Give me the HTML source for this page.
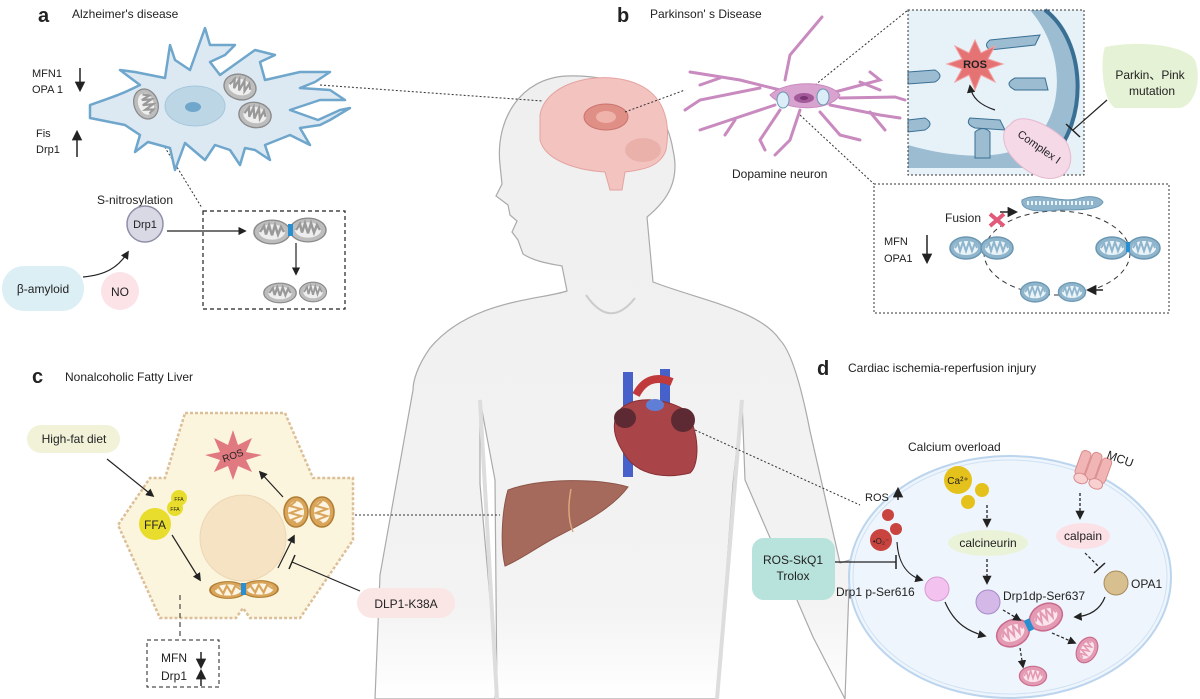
<!DOCTYPE html>
<html><head><meta charset="utf-8"><style>
html,body{margin:0;padding:0;background:#fff}
svg{display:block}
text{font-family:"Liberation Sans","Noto Sans CJK SC",sans-serif;fill:#222}
</style></head><body>
<svg width="1200" height="699" viewBox="0 0 1200 699" xmlns="http://www.w3.org/2000/svg">
<defs>
<marker id="ah" viewBox="0 0 10 10" refX="8" refY="5" markerWidth="7" markerHeight="7" orient="auto"><path d="M0,0L10,5L0,10z" fill="#222"/></marker>
<linearGradient id="bodyg" x1="0" y1="0" x2="0" y2="1"><stop offset="0" stop-color="#efefef"/><stop offset="0.85" stop-color="#f3f3f3"/><stop offset="1" stop-color="#fff"/></linearGradient>
<g id="mitoG"><ellipse cx="0" cy="0" rx="18" ry="14" fill="#bdbdbd" stroke="#8a8a8a" stroke-width="1.5"/><ellipse cx="0" cy="0" rx="13" ry="9" fill="#eee"/><path d="M-12,0 L-8,-7 L-6,3 L-3,-8 L0,4 L3,-8 L6,3 L9,-6 L12,0" fill="none" stroke="#999" stroke-width="2.5"/></g>
<g id="mitoB"><ellipse cx="0" cy="0" rx="16" ry="11" fill="#8fb5cc" stroke="#6b97b3" stroke-width="1.5"/><ellipse cx="0" cy="0" rx="12" ry="7" fill="#eaf3f8"/><path d="M-11,0 L-8,-5 L-6,3 L-3,-6 L0,3 L3,-6 L6,3 L9,-5 L11,0" fill="none" stroke="#8fb5cc" stroke-width="2"/></g>
<g id="mitoO"><ellipse cx="0" cy="0" rx="12" ry="15" fill="#d9a55a" stroke="#b07d33" stroke-width="1.5"/><ellipse cx="0" cy="0" rx="8" ry="11" fill="#fdf4e3"/><path d="M0,-11 L-6,-6 L5,-3 L-6,1 L5,4 L-5,8 L0,11" fill="none" stroke="#d9a55a" stroke-width="2"/></g>
<g id="mitoP"><ellipse cx="0" cy="0" rx="17" ry="13" fill="#e49ab3" stroke="#c86a8c" stroke-width="1.5"/><ellipse cx="0" cy="0" rx="12" ry="8" fill="#fbe6ee"/><path d="M-11,0 L-8,-6 L-6,3 L-3,-7 L0,3 L3,-7 L6,3 L9,-6 L11,0" fill="none" stroke="#e49ab3" stroke-width="2"/></g>
</defs>

<!-- BODY -->
<path d="M567,76 C520,78 495,120 500,165 L502,184 L496,196 L508,205 L510,215 L517,221 L512,232 L518,240 L523,254 C535,262 552,264 562,266 L567,291 C540,300 470,300 430,348 C418,365 413,380 413,390 L380,575 L375,699 L495,699 L497,678 L480,484 L480,400 L495,480 L497,699 L717,699 L733,484 L742,400 L745,480 L813,637 L845,699 L850,560 L840,563 L810,431 C800,380 790,350 780,340 C760,310 700,300 653,282 L647,217 C668,200 680,180 673,150 C665,100 625,74 567,76 Z" fill="url(#bodyg)" stroke="#aaa" stroke-width="1.2"/>
<path d="M480,400 L497,699" stroke="#ddd" stroke-width="4" fill="none"/>
<path d="M742,400 L717,699" stroke="#ddd" stroke-width="4" fill="none"/>
<path d="M586,295 Q610,330 635,298" stroke="#ccc" stroke-width="2" fill="none"/>
<path d="M540,115 C545,85 590,72 625,80 C660,88 672,115 666,150 C660,168 640,170 625,172 L622,190 L610,190 L605,172 C575,170 545,160 540,140 Z" fill="#f3c3c0" stroke="#e4a3a0" stroke-width="1"/>
<ellipse cx="606" cy="117" rx="22" ry="13" fill="#e08f86" stroke="#c9736b"/>
<ellipse cx="606" cy="117" rx="10" ry="6" fill="#f0b3ab"/>
<ellipse cx="643" cy="150" rx="18" ry="12" fill="#eab1ab"/>
<rect x="623" y="372" width="10" height="105" fill="#4661c9"/>
<rect x="660" y="369" width="10" height="45" fill="#4661c9"/>
<path d="M636,395 Q648,372 672,382" stroke="#c0393b" stroke-width="8" fill="none"/>
<path d="M615,420 C620,395 660,395 685,410 C700,430 700,465 690,473 C670,478 640,478 625,455 C615,440 613,430 615,420Z" fill="#a94548" stroke="#8a2f33"/>
<ellipse cx="625" cy="418" rx="11" ry="10" fill="#5d2a33"/>
<ellipse cx="683" cy="420" rx="12" ry="12" fill="#5d2a33"/>
<ellipse cx="655" cy="405" rx="9" ry="6" fill="#5f7fd6"/>
<path d="M508,490 C540,478 600,478 628,487 C615,505 590,520 560,535 C540,545 520,560 505,566 C500,545 502,510 508,490Z" fill="#a66a5d" stroke="#8c5548"/>
<path d="M571,489 Q566,515 573,532" stroke="#d9a87a" stroke-width="1.5" fill="none"/>

<!-- dotted leaders -->
<g stroke="#333" stroke-width="1" stroke-dasharray="2,2" fill="none">
<path d="M320,85 L543,101"/>
<path d="M625,112 L685,90"/>
<path d="M150,123 L202,208"/>
<path d="M355,515 L500,515"/>
<path d="M695,430 L860,505"/>
<path d="M815,85 L908,10"/>
<path d="M800,115 L874,184"/>
</g>

<!-- PANEL A -->
<text x="38" y="22" font-size="20" font-weight="bold" fill="#111">a</text>
<text x="72" y="18" font-size="12">Alzheimer's disease</text>
<path d="M90,105 C110,98 120,95 140,85 L120,70 L135,72 L165,78 L170,45 L175,60 L190,70 L205,28 L210,45 L235,45 L225,55 L210,62 L220,75 L255,50 L275,55 L260,62 L265,80 L300,72 L330,72 L315,82 L300,88 L330,90 L345,100 L320,100 L290,110 L318,120 L340,110 L350,108 L330,120 L320,125 L300,128 L310,145 L290,135 L265,145 L270,160 L255,150 L245,148 L240,165 L230,150 L215,145 L205,160 L185,143 L175,170 L170,148 L148,142 L135,152 L140,135 L125,125 L90,118 Z" fill="#dde9f2" stroke="#6fa6cc" stroke-width="2.5" stroke-linejoin="round"/>
<ellipse cx="195" cy="106" rx="30" ry="20" fill="#bcd6e6" stroke="#a5c7dc"/>
<ellipse cx="193" cy="107" rx="8" ry="5" fill="#6fa6cc"/>
<use href="#mitoG" transform="translate(146,104) rotate(70) scale(0.85)"/>
<use href="#mitoG" transform="translate(240,87) rotate(15) scale(0.9)"/>
<use href="#mitoG" transform="translate(255,115) rotate(10) scale(0.9)"/>
<text x="32" y="77" font-size="11">MFN1</text>
<text x="32" y="93" font-size="11">OPA 1</text>
<path d="M80,68 L80,90" stroke="#222" stroke-width="1.5" marker-end="url(#ah)"/>
<text x="36" y="137" font-size="11">Fis</text>
<text x="36" y="153" font-size="11">Drp1</text>
<path d="M77,157 L77,132" stroke="#222" stroke-width="1.5" marker-end="url(#ah)"/>
<text x="97" y="204" font-size="12">S-nitrosylation</text>
<circle cx="145" cy="224" r="18" fill="#d9d9e6" stroke="#8f8fa8" stroke-width="1.5"/>
<text x="145" y="228" font-size="11" text-anchor="middle">Drp1</text>
<path d="M167,231 L245,231" stroke="#222" stroke-width="1.2" marker-end="url(#ah)"/>
<rect x="203" y="211" width="142" height="98" fill="none" stroke="#222" stroke-dasharray="4,3" stroke-width="1.2"/>
<use href="#mitoG" transform="translate(272,232) scale(1,0.85)"/>
<use href="#mitoG" transform="translate(308,230) scale(1,0.85)"/>
<rect x="288" y="224" width="5" height="12" fill="#2a8fd0"/>
<path d="M296,243 L296,274" stroke="#222" stroke-width="1.2" marker-end="url(#ah)"/>
<use href="#mitoG" transform="translate(280,293) scale(0.9,0.7)"/>
<use href="#mitoG" transform="translate(313,292) scale(0.75,0.7)"/>
<rect x="2" y="266" width="82" height="45" rx="22" fill="#dbeff5"/>
<text x="43" y="293" font-size="12" text-anchor="middle">β-amyloid</text>
<circle cx="120" cy="291" r="19" fill="#fbe3e8"/>
<text x="120" y="296" font-size="12" text-anchor="middle">NO</text>
<path d="M83,277 C105,275 118,268 128,252" stroke="#222" stroke-width="1.2" fill="none" marker-end="url(#ah)"/>

<!-- PANEL B -->
<text x="617" y="22" font-size="20" font-weight="bold" fill="#111">b</text>
<text x="650" y="18" font-size="12">Parkinson' s Disease</text>
<g stroke="#c98abf" stroke-width="3" fill="none" stroke-linecap="round">
<path d="M822,17 L790,55 L785,80"/>
<path d="M780,90 L740,80 L690,72"/>
<path d="M760,88 L700,100 L685,110"/>
<path d="M775,105 L730,120 L700,130"/>
<path d="M780,110 L760,140 L765,150"/>
<path d="M800,110 L790,140 L775,155"/>
<path d="M820,112 L840,135 L860,140"/>
<path d="M830,105 L880,115 L900,118"/>
<path d="M835,92 L880,80 L870,72"/>
<path d="M840,98 L895,97 L905,100"/>
<path d="M720,78 L700,85"/><path d="M735,120 L725,135"/><path d="M870,112 L885,130"/><path d="M860,82 L880,90"/>
</g>
<path d="M770,95 C785,80 830,80 840,95 C830,112 785,112 770,95Z" fill="#d9a3cf" stroke="#c98abf"/>
<ellipse cx="783" cy="100" rx="6" ry="8" fill="#dbeef7" stroke="#6b97b3"/>
<ellipse cx="804" cy="98" rx="10" ry="5" fill="#a35a9a"/>
<ellipse cx="804" cy="98" rx="4" ry="2" fill="#7a3572"/>
<ellipse cx="823" cy="97" rx="6" ry="8" fill="#dbeef7" stroke="#6b97b3"/>
<text x="732" y="178" font-size="12">Dopamine neuron</text>

<!-- box1 -->
<rect x="908" y="10" width="176" height="165" fill="#e6f1f8"/>
<path d="M1045,10 C1085,40 1090,120 1050,160 L1040,168 L908,168 L908,145 C960,160 1010,160 1035,140 C1065,110 1065,50 1030,10 Z" fill="#9bbcd1"/>
<path d="M1045,10 C1085,40 1090,120 1050,160 L1040,168" fill="none" stroke="#3a6f94" stroke-width="4"/>
<g fill="#9bbcd1" stroke="#3a6f94" stroke-width="1">
<path d="M908,72 L935,70 Q945,76 935,82 L908,84Z"/>
<path d="M1045,78 L1015,78 Q1003,84 1015,90 L1048,90Z"/>
<path d="M908,120 L925,118 Q935,124 925,130 L908,132Z"/>
<path d="M1000,120 L970,118 Q965,124 975,128 L1005,130Z"/>
<path d="M975,158 L975,132 Q983,125 990,132 L990,158Z"/>
<path d="M1040,35 L990,40 Q983,45 990,50 L1035,45Z"/>
</g>
<polygon points="975,40 981,53 995,46 988,59 1003,64 988,69 995,82 981,75 975,90 969,75 955,82 962,69 947,64 962,59 955,46 969,53" fill="#e57373" stroke="#f2a0a0"/>
<text x="975" y="68" font-size="11" font-weight="bold" fill="#fff" text-anchor="middle">ROS</text>
<path d="M995,110 C980,105 972,98 970,86" stroke="#222" stroke-width="1.2" fill="none" marker-end="url(#ah)"/>
<rect x="908" y="10" width="176" height="165" fill="none" stroke="#333" stroke-dasharray="2,2"/>
<path d="M1010,125 C1020,110 1050,125 1065,140 C1075,155 1072,175 1055,178 C1035,182 1010,160 1005,145 C1002,135 1004,128 1010,125Z" fill="#f5d9e7" stroke="#e6b9cf"/>
<text x="1037" y="150" font-size="11" transform="rotate(35 1037 150)" text-anchor="middle">Complex I</text>
<path d="M1105,47 C1140,40 1185,45 1195,60 C1202,80 1195,105 1180,108 L1115,108 C1102,100 1100,60 1105,47Z" fill="#e6f2d5"/>
<text x="1150" y="79" font-size="12" text-anchor="middle">Parkin、Pink</text>
<text x="1152" y="95" font-size="12" text-anchor="middle">mutation</text>
<path d="M1107,100 L1073,130" stroke="#222" stroke-width="1.2"/>
<path d="M1066,124 L1080,137" stroke="#222" stroke-width="1.5"/>

<!-- box2 -->
<rect x="874" y="184" width="295" height="129" fill="none" stroke="#333" stroke-dasharray="2,2"/>
<ellipse cx="1057" cy="253" rx="73" ry="42" fill="none" stroke="#333" stroke-dasharray="5,4"/>
<path d="M1022,200 C1040,190 1060,205 1080,198 C1090,195 1100,197 1103,202 C1100,210 1080,210 1060,210 C1040,212 1020,212 1022,200Z" fill="#8fb5cc" stroke="#6b97b3"/>
<path d="M1027,203 L1095,203" stroke="#eaf3f8" stroke-width="4" stroke-dasharray="2,2"/>
<use href="#mitoB" transform="translate(966,248)"/>
<use href="#mitoB" transform="translate(997,248)"/>
<use href="#mitoB" transform="translate(1112,248)"/>
<use href="#mitoB" transform="translate(1144,248)"/>
<rect x="1126" y="242" width="4" height="10" fill="#2a8fd0"/>
<use href="#mitoB" transform="translate(1035,292) scale(0.9)"/>
<use href="#mitoB" transform="translate(1072,292) scale(0.85)"/>
<path d="M1000,212 L1016,212" stroke="#222" marker-end="url(#ah)" stroke-width="1.5"/>
<path d="M1103,290 L1088,290" stroke="#222" marker-end="url(#ah)" stroke-width="1.5"/>
<path d="M990,214 L1004,226 M1004,214 L990,226" stroke="#e25a7a" stroke-width="4"/>
<text x="945" y="222" font-size="12">Fusion</text>
<text x="884" y="245" font-size="11">MFN</text>
<text x="884" y="262" font-size="11">OPA1</text>
<path d="M927,235 L927,262" stroke="#222" stroke-width="1.5" marker-end="url(#ah)"/>

<!-- PANEL C -->
<text x="32" y="383" font-size="20" font-weight="bold" fill="#111">c</text>
<text x="65" y="381" font-size="12">Nonalcoholic Fatty Liver</text>
<path d="M185,413 L285,413 L313,478 L353,478 L353,540 L300,618 L250,618 L243,608 L236,618 L160,618 L118,525 L150,478 L165,478 Z" fill="#fcf5dd" stroke="#dcbf99" stroke-width="2.5" stroke-dasharray="3,2"/>
<circle cx="243" cy="538" r="43" fill="#f5e3c3" stroke="#ecd6b4"/>
<polygon points="233,430 238,445 252,438 246,452 262,455 246,460 252,472 238,466 233,480 228,466 214,472 220,460 205,455 220,452 214,438 228,445" fill="#e07a80"/>
<text x="233" y="459" font-size="10" fill="#fff" text-anchor="middle" transform="rotate(-20 233 456)">ROS</text>
<rect x="27" y="425" width="93" height="28" rx="14" fill="#f1f2d8"/>
<text x="74" y="443" font-size="12" text-anchor="middle">High-fat diet</text>
<circle cx="155" cy="524" r="16" fill="#e8dd2c"/>
<text x="155" y="529" font-size="12" text-anchor="middle">FFA</text>
<circle cx="175" cy="508" r="8" fill="#e8dd2c"/>
<circle cx="179" cy="498" r="8" fill="#e8dd2c"/>
<text x="179" y="501" font-size="5" text-anchor="middle">FFA</text>
<text x="175" y="511" font-size="5" text-anchor="middle">FFA</text>
<use href="#mitoO" transform="translate(228,590) rotate(90) scale(0.7,1.2)"/>
<use href="#mitoO" transform="translate(260,589) rotate(90) scale(0.7,1.2)"/>
<rect x="241" y="583" width="5" height="12" fill="#2a8fd0"/>
<use href="#mitoO" transform="translate(296,512)"/>
<use href="#mitoO" transform="translate(322,512)"/>
<path d="M107,459 L153,496" stroke="#222" stroke-width="1.2" marker-end="url(#ah)"/>
<path d="M172,535 L200,580" stroke="#222" stroke-width="1.2" marker-end="url(#ah)"/>
<path d="M283,497 L260,472" stroke="#222" stroke-width="1.2" marker-end="url(#ah)"/>
<path d="M278,568 L294,536" stroke="#222" stroke-width="1.2" marker-end="url(#ah)"/>
<path d="M360,591 L292,562" stroke="#222" stroke-width="1.2"/>
<path d="M295,555 L289,569" stroke="#222" stroke-width="1.5"/>
<rect x="357" y="588" width="98" height="30" rx="15" fill="#fbe6e6"/>
<text x="406" y="608" font-size="12" text-anchor="middle">DLP1-K38A</text>
<path d="M180,595 L180,640" stroke="#222" stroke-dasharray="5,4"/>
<rect x="147" y="640" width="72" height="47" fill="none" stroke="#222" stroke-dasharray="4,3"/>
<text x="161" y="662" font-size="12">MFN</text>
<text x="161" y="680" font-size="12">Drp1</text>
<path d="M201,652 L201,667" stroke="#222" stroke-width="1.5" marker-end="url(#ah)"/>
<path d="M201,686 L201,671" stroke="#222" stroke-width="1.5" marker-end="url(#ah)"/>

<!-- PANEL D -->
<text x="817" y="375" font-size="20" font-weight="bold" fill="#111">d</text>
<text x="848" y="372" font-size="12">Cardiac ischemia-reperfusion injury</text>
<ellipse cx="1010" cy="577" rx="161" ry="121" fill="#eef5fc" stroke="#bcd5ee" stroke-width="2"/>
<ellipse cx="1010" cy="577" rx="157" ry="117" fill="none" stroke="#cfe1f3" stroke-width="1"/>
<text x="908" y="451" font-size="12">Calcium overload</text>
<circle cx="958" cy="480" r="14" fill="#e5c21b"/>
<text x="958" y="484" font-size="10" text-anchor="middle">Ca²⁺</text>
<circle cx="982" cy="490" r="7" fill="#e5c21b"/>
<circle cx="968" cy="502" r="7" fill="#e5c21b"/>
<path d="M987,505 L987,526" stroke="#222" stroke-dasharray="3,2" stroke-width="1.3" marker-end="url(#ah)"/>
<ellipse cx="988" cy="543" rx="40" ry="13" fill="#eaf3d8"/>
<text x="988" y="547" font-size="12" text-anchor="middle">calcineurin</text>
<path d="M987,559 L987,583" stroke="#222" stroke-dasharray="3,2" stroke-width="1.3" marker-end="url(#ah)"/>
<circle cx="988" cy="602" r="12" fill="#d3b8e8" stroke="#a78bc7"/>
<text x="1003" y="600" font-size="12">Drp1dp-Ser637</text>
<g transform="translate(1093,468) rotate(20)">
<rect x="-16" y="-14" width="10" height="26" rx="4" fill="#f2b5b5" stroke="#d98c8c"/>
<rect x="-5" y="-16" width="10" height="28" rx="4" fill="#f2b5b5" stroke="#d98c8c"/>
<rect x="6" y="-14" width="10" height="26" rx="4" fill="#f2b5b5" stroke="#d98c8c"/>
<ellipse cx="-8" cy="14" rx="7" ry="5" fill="#f8d0d0" stroke="#d98c8c"/>
<ellipse cx="8" cy="14" rx="7" ry="5" fill="#f8d0d0" stroke="#d98c8c"/>
</g>
<text x="1106" y="458" font-size="12" transform="rotate(20 1106 458)">MCU</text>
<path d="M1080,493 L1080,518" stroke="#222" stroke-dasharray="3,2" stroke-width="1.3" marker-end="url(#ah)"/>
<ellipse cx="1083" cy="536" rx="27" ry="13" fill="#fbe0e6"/>
<text x="1083" y="540" font-size="12" text-anchor="middle">calpain</text>
<path d="M1085,553 L1100,568" stroke="#222" stroke-dasharray="3,2" stroke-width="1.2"/>
<path d="M1094,573 L1105,563" stroke="#222" stroke-width="1.5"/>
<circle cx="1116" cy="583" r="12" fill="#d8bf8f" stroke="#a88b5a"/>
<text x="1131" y="588" font-size="12">OPA1</text>
<text x="865" y="501" font-size="11">ROS</text>
<path d="M898,500 L898,489" stroke="#222" stroke-width="1.5" marker-end="url(#ah)"/>
<circle cx="888" cy="515" r="6" fill="#c9433f"/>
<circle cx="896" cy="529" r="6" fill="#c9433f"/>
<circle cx="881" cy="540" r="11" fill="#c9433f"/>
<text x="881" y="544" font-size="8" fill="#fff" text-anchor="middle">•O₂⁻</text>
<path d="M897,542 C898,560 905,575 922,580" stroke="#222" stroke-width="1.2" fill="none" marker-end="url(#ah)"/>
<text x="836" y="596" font-size="12">Drp1 p-Ser616</text>
<circle cx="937" cy="589" r="12" fill="#f4c2ef" stroke="#d89ad2"/>
<rect x="752" y="538" width="83" height="62" rx="12" fill="#b8e3dc"/>
<text x="793" y="564" font-size="12" text-anchor="middle">ROS-SkQ1</text>
<text x="793" y="580" font-size="12" text-anchor="middle">Trolox</text>
<path d="M835,562 L896,562" stroke="#222" stroke-width="1.2"/>
<path d="M896,555 L896,569" stroke="#222" stroke-width="1.5"/>
<use href="#mitoP" transform="translate(1013,633) rotate(-25)"/>
<use href="#mitoP" transform="translate(1046,617) rotate(-25)"/>
<rect x="1026" y="619" width="6" height="12" fill="#2a8fd0" transform="rotate(-25 1029 625)"/>
<path d="M945,602 C955,625 970,632 985,636" stroke="#222" stroke-width="1.2" fill="none" marker-end="url(#ah)"/>
<path d="M1003,610 L1020,620" stroke="#222" stroke-dasharray="3,2" stroke-width="1.2" marker-end="url(#ah)"/>
<path d="M1105,597 C1100,610 1090,616 1075,617" stroke="#222" stroke-width="1.2" fill="none" marker-end="url(#ah)"/>
<path d="M1020,648 L1023,667" stroke="#222" stroke-dasharray="3,2" stroke-width="1.2" marker-end="url(#ah)"/>
<path d="M1052,633 L1075,643" stroke="#222" stroke-dasharray="3,2" stroke-width="1.2" marker-end="url(#ah)"/>
<use href="#mitoP" transform="translate(1033,676) scale(0.8,0.75)"/>
<use href="#mitoP" transform="translate(1087,650) rotate(-60) scale(0.8,0.75)"/>
</svg>
</body></html>
